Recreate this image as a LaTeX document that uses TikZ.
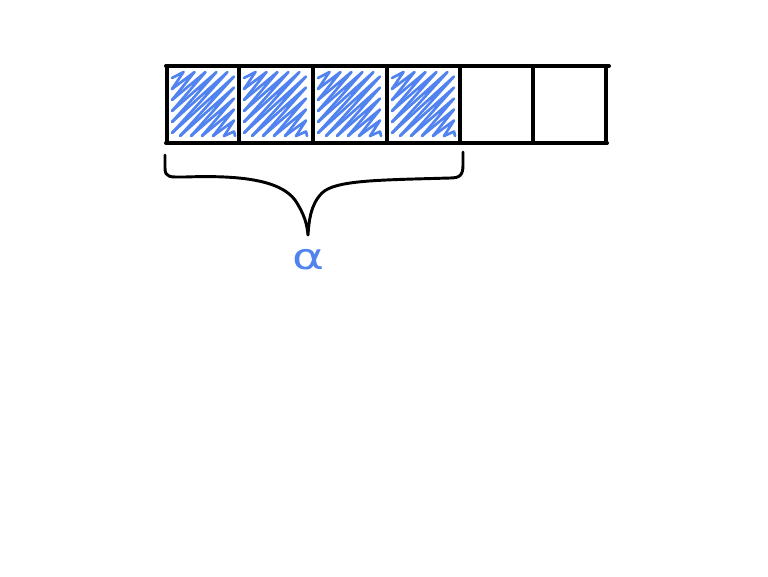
\documentclass[tikz,border=0pt]{standalone}
\usepackage{fontspec}
\newfontfamily\dejavu{DejaVu Sans}
\definecolor{pen}{RGB}{80,130,240}
\begin{document}
\begin{tikzpicture}[x=0.75pt,y=-0.75pt,
  gridline/.style={line width=3pt,black,line cap=round},
  bracepen/.style={line width=2.2pt,black,line cap=round,line join=round},
  scribble/.style={line width=2pt,pen,line cap=round,line join=round},
  label/.style={text=pen,font=\dejavu\fontsize{27}{27}\selectfont,inner sep=0pt,xscale=1.35}]
\useasboundingbox (0,0) rectangle (768,576);
% grid
\draw[gridline] (166,66) -- (609,66);
\draw[gridline] (166,143) -- (607,143);
\foreach \x in {167,239,313,387,460,533,606}
  \draw[gridline] (\x,66) -- (\x,143);
% scribbles in first four cells
\def\W{62}\def\H{64}
\foreach \cx in {172,244,318,392} {
  \foreach \i in {0,...,10} {
    \pgfmathsetmacro\sa{6+11*\i}
    \pgfmathsetmacro\sm{\sa+5.5}
    \pgfmathsetmacro\sb{\sa+11}
    \pgfmathsetmacro\ua{max(0,\sa-\H)}
    \pgfmathsetmacro\va{\sa-\ua}
    \pgfmathsetmacro\um{min(\W,\sm)}
    \pgfmathsetmacro\vm{\sm-\um}
    \pgfmathsetmacro\ub{max(0,\sb-\H)}
    \pgfmathsetmacro\vb{\sb-\ub}
    \draw[scribble] (\cx+\ua,72+\va) -- (\cx+\um,72+\vm) -- (\cx+\ub,72+\vb);
  }
}
% brace
\coordinate (bl) at (165,155);
\coordinate (tip) at (308,235);
\coordinate (br) at (463,152);
\draw[bracepen] (bl) -- (165,168) .. controls (165,178) and (170,177) .. (185,177)
  .. controls (240,175) and (280,180) .. (295,200)
  .. controls (305,215) and (307,225) .. (tip)
  .. controls (309,222) and (310,205) .. (322,193)
  .. controls (335,180) and (380,180) .. (450,178)
  .. controls (460,178) and (463,175) .. (463,165) -- (br);
\node[label] (alpha) at (309,260) {α};
\end{tikzpicture}
\end{document}
